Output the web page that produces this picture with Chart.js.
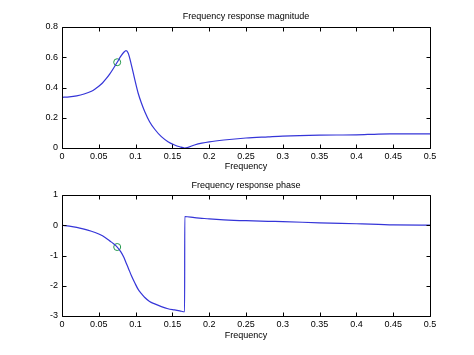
<!DOCTYPE html>
<html>
<head>
<meta charset="utf-8">
<script src="https://cdn.jsdelivr.net/npm/chart.js@4"></script>
<style>
  html, body { margin: 0; padding: 0; background: #fff; }
  #wrap { position: relative; width: 474px; height: 355px; overflow: hidden; }
  .c { position: absolute; left: 0; }
</style>
</head>
<body>
<div id="wrap">
  <canvas id="mag" class="c" width="474" height="177" style="top:0;width:474px;height:177px"></canvas>
  <canvas id="phase" class="c" width="474" height="178" style="top:177px;width:474px;height:178px"></canvas>
</div>
<script>
// ---- data ----
const frequency = [0, 0.01, 0.02, 0.03, 0.04, 0.045, 0.05, 0.055, 0.06, 0.065, 0.07, 0.075, 0.08, 0.084, 0.087, 0.09, 0.0945, 0.099, 0.1035, 0.108, 0.1125, 0.119, 0.126, 0.135, 0.144, 0.153, 0.16, 0.1666, 0.1668, 0.18, 0.19, 0.2, 0.22, 0.25, 0.28, 0.3, 0.35, 0.4, 0.43, 0.45, 0.5];
const magnitude = [0.335, 0.338, 0.345, 0.357, 0.375, 0.39, 0.408, 0.43, 0.458, 0.49, 0.527, 0.567, 0.607, 0.633, 0.644, 0.627, 0.545, 0.45, 0.362, 0.296, 0.24, 0.174, 0.124, 0.075, 0.042, 0.02, 0.008, 0.0, 0.0, 0.02, 0.032, 0.041, 0.053, 0.066, 0.074, 0.079, 0.085, 0.087, 0.092, 0.093, 0.094];
const phase = [0.0, -0.03, -0.07, -0.13, -0.2, -0.24, -0.29, -0.35, -0.43, -0.52, -0.61, -0.72, -0.88, -1.06, -1.24, -1.41, -1.68, -1.91, -2.12, -2.26, -2.39, -2.52, -2.6, -2.69, -2.76, -2.8, -2.83, -2.86, 0.29, 0.25, 0.23, 0.21, 0.18, 0.15, 0.13, 0.12, 0.08, 0.05, 0.03, 0.01, 0.005];
const markerFreq = [0.075];
const markerMag = [0.567];
const markerPhase = [-0.72];
const xTickLabels = ['0', '0.05', '0.1', '0.15', '0.2', '0.25', '0.3', '0.35', '0.4', '0.45', '0.5'];
const magTickLabels = ['0', '0.2', '0.4', '0.6', '0.8'];
const phaseTickLabels = ['-3', '-2', '-1', '0', '1'];
const titles = ['Frequency response magnitude', 'Frequency response phase'];
const xLabel = 'Frequency';

// ---- rendering ----
Chart.defaults.color = '#000';
Chart.defaults.font.family = '"Liberation Sans", Arial, Helvetica, sans-serif';
Chart.defaults.font.size = 9;

const LINE = '#3535d8';
const MARK = '#23984a';

const framePlugin = {
  id: 'frame',
  afterDraw(chart) {
    const ctx = chart.ctx, a = chart.chartArea;
    const xs = chart.scales.x, ys = chart.scales.y;
    const L = Math.round(a.left) + 0.5, R = Math.round(a.right) + 0.5;
    const T = Math.round(a.top) + 0.5, B = Math.round(a.bottom) + 0.5;
    ctx.save();
    ctx.strokeStyle = '#000';
    ctx.lineWidth = 1;
    ctx.beginPath();
    ctx.rect(L, T, R - L, B - T);
    const tl = 4;
    xs.ticks.forEach(t => {
      const p = Math.round(xs.getPixelForValue(t.value)) + 0.5;
      ctx.moveTo(p, B); ctx.lineTo(p, B - tl);
      ctx.moveTo(p, T); ctx.lineTo(p, T + tl);
    });
    ys.ticks.forEach(t => {
      const p = Math.round(ys.getPixelForValue(t.value)) + 0.5;
      ctx.moveTo(L, p); ctx.lineTo(L + tl, p);
      ctx.moveTo(R, p); ctx.lineTo(R - tl, p);
    });
    ctx.stroke();
    ctx.restore();
  }
};

function makeChart(id, values, markerValues, yMin, yMax, yStep, yLabels, title, titlePad, xHeight, xTitlePadBottom) {
  const line = frequency.map((f, i) => ({ x: f, y: values[i] }));
  const marks = markerFreq.map((f, i) => ({ x: f, y: markerValues[i] }));
  return new Chart(document.getElementById(id), {
    type: 'scatter',
    data: {
      datasets: [
        { data: line, showLine: true, borderColor: LINE, borderWidth: 1.2, pointRadius: 0, cubicInterpolationMode: 'monotone', fill: false },
        { data: marks, showLine: false, pointStyle: 'circle', pointRadius: 3.5, borderColor: MARK, backgroundColor: 'rgba(0,0,0,0)', borderWidth: 1 }
      ]
    },
    options: {
      responsive: false,
      animation: false,
      devicePixelRatio: 1,
      layout: { padding: { left: 0, right: 44, top: 0, bottom: 0 } },
      plugins: {
        legend: { display: false },
        tooltip: { enabled: false },
        title: {
          display: true, text: title, fullSize: false,
          font: { size: 9, weight: 'normal', lineHeight: 1.2 },
          padding: titlePad, color: '#000'
        }
      },
      scales: {
        x: {
          type: 'linear', min: 0, max: 0.5,
          grid: { display: false, drawTicks: false },
          border: { display: false },
          ticks: {
            stepSize: 0.05, padding: 3, maxRotation: 0, autoSkip: false,
            callback: (v, i) => xTickLabels[i]
          },
          title: { display: true, text: xLabel, font: { size: 9, lineHeight: 1.2 }, padding: { top: 0, bottom: xTitlePadBottom } },
          afterFit: s => { s.height = xHeight; }
        },
        y: {
          type: 'linear', min: yMin, max: yMax,
          grid: { display: false, drawTicks: false },
          border: { display: false },
          ticks: { stepSize: yStep, padding: 4, autoSkip: false, callback: (v, i) => yLabels[i] },
          afterFit: s => { s.width = 62; }
        }
      }
    },
    plugins: [framePlugin]
  });
}

makeChart('mag', magnitude, markerMag, 0, 0.8, 0.2, magTickLabels, titles[0], { top: 11.6, bottom: 4.6 }, 29, 4.6);
makeChart('phase', phase, markerPhase, -3, 1, 1, phaseTickLabels, titles[1], { top: 3.6, bottom: 3.6 }, 39, 13.6);
</script>
</body>
</html>
